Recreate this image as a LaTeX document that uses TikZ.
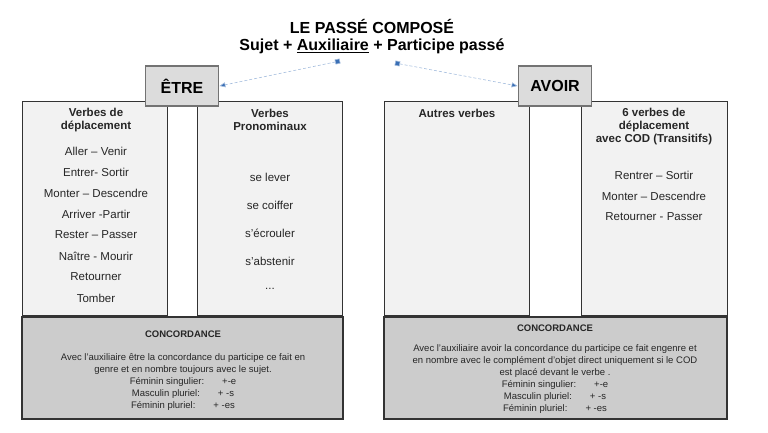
\documentclass[tikz,border=0pt]{standalone}
\usepackage{fontspec}
\setmainfont{Liberation Sans}
\usetikzlibrary{arrows.meta}
\definecolor{colfill}{HTML}{F2F2F2}
\definecolor{concfill}{HTML}{CCCCCC}
\definecolor{auxfill}{HTML}{DCDCDC}
\definecolor{arrblue}{HTML}{3A6FB5}
\definecolor{txt}{HTML}{262626}
\tikzset{
 colbox/.style={draw=black!80, fill=colfill, line width=0.6pt},
 concbox/.style={draw=black!80, fill=concfill, line width=1.6pt},
 auxbox/.style={draw=black!55, fill=auxfill, line width=1.8pt, minimum width=73pt, minimum height=40pt, font=\bfseries\fontsize{16}{18}\selectfont},
 hdr/.style={font=\bfseries\fontsize{11.5}{13}\selectfont, align=center, text=txt},
 item/.style={font=\fontsize{11.5}{13}\selectfont, text=txt},
 conc/.style={font=\fontsize{9.5}{12}\selectfont, align=center, text=txt},
 conct/.style={font=\bfseries\fontsize{9.5}{12}\selectfont, text=txt},
 link/.style={densely dashed, draw=arrblue!45, line width=0.6pt, {Square[fill=arrblue,length=5pt,width=5pt]}-{Triangle[fill=arrblue,length=6pt,width=5pt]}}
}
\begin{document}
\begin{tikzpicture}[x=1pt,y=-1pt]
\useasboundingbox (0,0) rectangle (768,432);
\node[font=\bfseries\fontsize{16}{18}\selectfont] (title) at (372,26) {LE PASSÉ COMPOSÉ};
\node[font=\bfseries\fontsize{16}{18}\selectfont] (form) at (372,46) {Sujet + \underline{Auxiliaire} + Participe passé};
\coordinate (s1) at (340,61);
\coordinate (s2) at (395,63);
\draw[colbox] (22,101) rectangle (167,315);
\draw[colbox] (197,101) rectangle (342,315);
\draw[colbox] (384,101) rectangle (529,315);
\draw[colbox] (581,101) rectangle (727,315);
\node[auxbox] (etre) at (182,86) {ÊTRE};
\node[auxbox] (avoir) at (555,86) {AVOIR};
\draw[link] (s1) -- (etre.east);
\draw[link] (s2) -- (avoir.west);
\node[hdr] (h1) at (96,120) {Verbes de\\déplacement};
\node[item] (a1) at (96,151) {Aller – Venir};
\node[item] (a2) at (96,172) {Entrer- Sortir};
\node[item] (a3) at (96,193) {Monter – Descendre};
\node[item] (a4) at (96,214) {Arriver -Partir};
\node[item] (a5) at (96,235) {Rester – Passer};
\node[item] (a6) at (96,256) {Naître - Mourir};
\node[item] (a7) at (96,277) {Retourner};
\node[item] (a8) at (96,298) {Tomber};
\node[hdr] (h2) at (270,120) {Verbes\\Pronominaux};
\node[item] (b1) at (270,177) {se lever};
\node[item] (b2) at (270,205) {se coiffer};
\node[item] (b3) at (270,233) {s’écrouler};
\node[item] (b4) at (270,261) {s’abstenir};
\node[item] (b5) at (270,289) {...};
\node[hdr] (h3) at (457,113) {Autres verbes};
\node[hdr] (h4) at (654,127) {6 verbes de\\déplacement\\avec COD (Transitifs)};
\node[item] (d1) at (654,175) {Rentrer – Sortir};
\node[item] (d2) at (654,196) {Monter – Descendre};
\node[item] (d3) at (654,217) {Retourner - Passer};
\draw[concbox] (22,317) rectangle (343,419);
\draw[concbox] (384,317) rectangle (727,419);
\node[conct] (c1t) at (183,334) {CONCORDANCE};
\node[conc, anchor=north] (c1) at (183,350) {Avec l'auxiliaire être la concordance du participe ce fait en\\genre et en nombre toujours avec le sujet.\\Féminin singulier:\hspace{18pt}+-e\\Masculin pluriel:\hspace{18pt}+ -s\\Féminin pluriel:\hspace{18pt}+ -es};
\node[conct] (c2t) at (555,328) {CONCORDANCE};
\node[conc, anchor=north] (c2) at (555,341) {Avec l'auxiliaire avoir la concordance du participe ce fait engenre et\\en nombre avec le complément d'objet direct uniquement si le COD\\est placé devant le verbe .\\Féminin singulier:\hspace{18pt}+-e\\Masculin pluriel:\hspace{18pt}+ -s\\Féminin pluriel:\hspace{18pt}+ -es};
\end{tikzpicture}
\end{document}
